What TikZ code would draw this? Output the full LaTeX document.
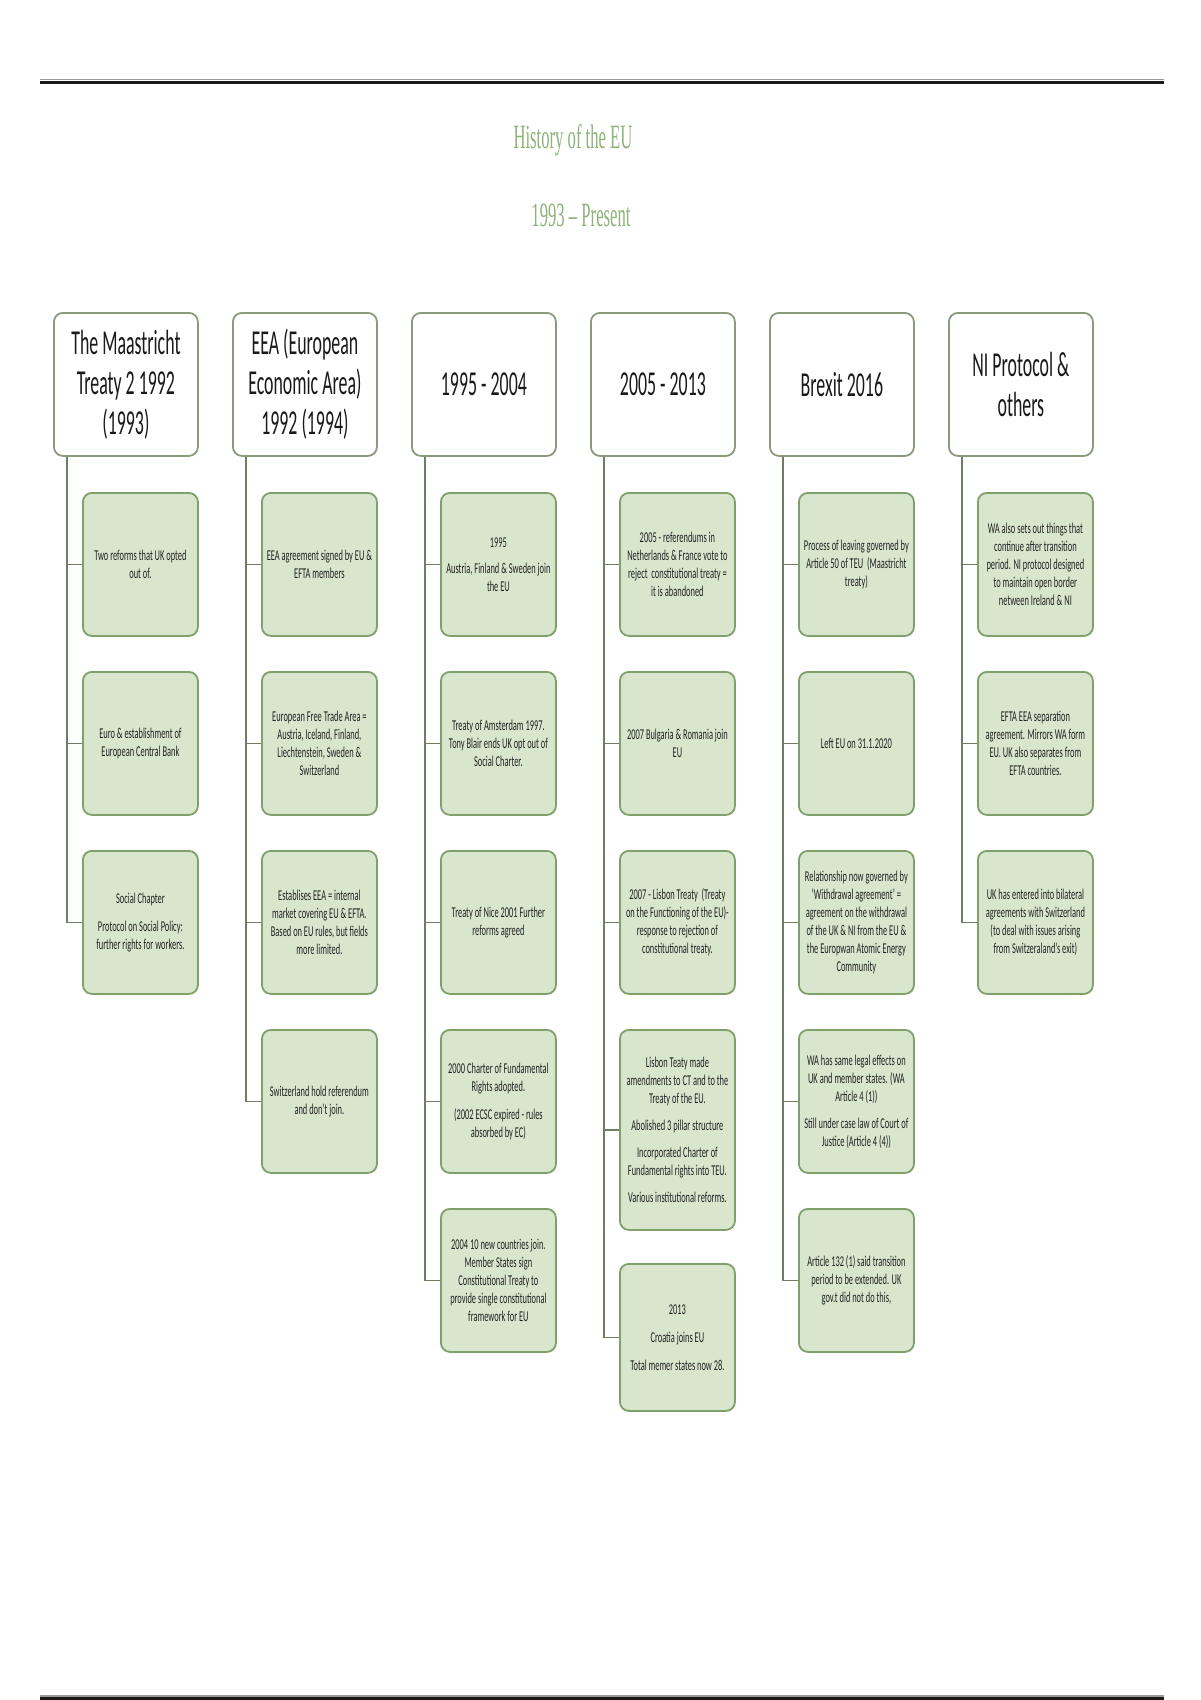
\documentclass[tikz,border=0pt]{standalone}
\usepackage{fontspec}
\newfontfamily\cfam[FakeStretch=0.56]{Carlito}
\newfontfamily\hfam[FakeStretch=0.51]{Carlito}
\newfontfamily\tfam[FakeStretch=0.49]{Liberation Serif}
\definecolor{headborder}{HTML}{8A9A7B}
\definecolor{leafborder}{HTML}{7FA06A}
\definecolor{leaffill}{HTML}{D8E6CE}
\definecolor{conncol}{HTML}{6F7D63}
\definecolor{titlecol}{HTML}{8DB27A}
\definecolor{leaftext}{HTML}{222222}
\definecolor{rulegray}{HTML}{9A9A9A}
\begin{document}
\begin{tikzpicture}[x=1pt,y=-1pt,
  head/.style={draw=headborder, line width=1.8pt, fill=white, rounded corners=9pt,
    minimum width=144pt, minimum height=143pt, anchor=north west, align=center,
    font=\hfam\fontsize{35pt}{40pt}\selectfont, text=black!90, inner sep=2pt},
  leaf/.style={draw=leafborder, line width=1.8pt, fill=leaffill, rounded corners=9pt,
    minimum width=115pt, minimum height=143pt, anchor=north west, align=center,
    font=\cfam\fontsize{15pt}{18pt}\selectfont, text=leaftext, inner sep=2pt},
  conn/.style={draw=conncol, line width=1.8pt},
  titletext/.style={font=\tfam\fontsize{34pt}{40pt}\selectfont, text=titlecol, anchor=base, inner sep=0pt},
  rulebar/.style={line width=3pt, draw=black!90},
  rulelite/.style={line width=1.2pt, draw=rulegray}
]
\fill[white] (0,0) rectangle (1200,1700);
\useasboundingbox (0,0) rectangle (1200,1700);

% rules
\coordinate (rl1) at (40,82);
\coordinate (rr1) at (1164,82);
\coordinate (rl1g) at (40,79.6);
\coordinate (rr1g) at (1164,79.6);
\draw[rulelite] (rl1g) -- (rr1g);
\draw[rulebar] (rl1) -- (rr1);
\coordinate (rl2) at (40,1698.5);
\coordinate (rr2) at (1164,1698.5);
\coordinate (rl2g) at (40,1696);
\coordinate (rr2g) at (1164,1696);
\draw[rulelite] (rl2g) -- (rr2g);
\draw[rulebar] (rl2) -- (rr2);

% titles
\node[titletext] (title) at (573,148) {History of the EU};
\node[titletext] (subtitle) at (581,226) {1993 – Present};

% headers
\node[head] (h1) at (53,312) {The Maastricht\\Treaty 2 1992\\(1993)};
\node[head] (h2) at (232,312) {EEA (European\\Economic Area)\\1992 (1994)};
\node[head] (h3) at (411,312) {1995 - 2004};
\node[head] (h4) at (590,312) {2005 - 2013};
\node[head] (h5) at (769,312) {Brexit 2016};
\node[head] (h6) at (948,312) {NI Protocol \&\\others};

% column 1
\node[leaf] (c11) at (82,492) {Two reforms that UK opted\\out of.};
\node[leaf] (c12) at (82,671) {Euro \& establishment of\\European Central Bank};
\node[leaf] (c13) at (82,850) {Social Chapter\\[10pt]Protocol on Social Policy:\\further rights for workers.};

% column 2
\node[leaf] (c21) at (261,492) {EEA agreement signed by EU \&\\EFTA members};
\node[leaf] (c22) at (261,671) {European Free Trade Area =\\Austria, Iceland, Finland,\\Liechtenstein, Sweden \&\\Switzerland};
\node[leaf] (c23) at (261,850) {Establises EEA = internal\\market covering EU \& EFTA.\\Based on EU rules, but fields\\more limited.};
\node[leaf] (c24) at (261,1029) {Switzerland hold referendum\\and don’t join.};

% column 3
\node[leaf] (c31) at (440,492) {1995\\[8pt]Austria, Finland \& Sweden join\\the EU};
\node[leaf] (c32) at (440,671) {Treaty of Amsterdam 1997.\\Tony Blair ends UK opt out of\\Social Charter.};
\node[leaf] (c33) at (440,850) {Treaty of Nice 2001 Further\\reforms agreed};
\node[leaf] (c34) at (440,1029) {2000 Charter of Fundamental\\Rights adopted.\\[10pt](2002 ECSC expired - rules\\absorbed by EC)};
\node[leaf] (c35) at (440,1208) {2004 10 new countries join.\\Member States sign\\Constitutional Treaty to\\provide single constitutional\\framework for EU};

% column 4
\node[leaf] (c41) at (619,492) {2005 - referendums in\\Netherlands \& France vote to\\reject \ constitutional treaty =\\it is abandoned};
\node[leaf] (c42) at (619,671) {2007 Bulgaria \& Romania join\\EU};
\node[leaf] (c43) at (619,850) {2007 - Lisbon Treaty \ (Treaty\\on the Functioning of the EU)-\\response to rejection of\\constitutional treaty.};
\node[leaf, minimum height=200pt] (c44) at (619,1029) {Lisbon Teaty made\\amendments to CT and to the\\Treaty of the EU.\\[9pt]Abolished 3 pillar structure\\[9pt]Incorporated Charter of\\Fundamental rights into TEU.\\[9pt]Various institutional reforms.};
\node[leaf, minimum height=147pt] (c45) at (619,1263) {2013\\[10pt]Croatia joins EU\\[10pt]Total memer states now 28.};

% column 5
\node[leaf] (c51) at (798,492) {Process of leaving governed by\\Article 50 of TEU \ (Maastricht\\treaty)};
\node[leaf] (c52) at (798,671) {Left EU on 31.1.2020};
\node[leaf] (c53) at (798,850) {Relationship now governed by\\‘Withdrawal agreement’ =\\agreement on the withdrawal\\of the UK \& NI from the EU \&\\the Europwan Atomic Energy\\Community};
\node[leaf] (c54) at (798,1029) {WA has same legal effects on\\UK and member states. (WA\\Article 4 (1))\\[9pt]Still under case law of Court of\\Justice (Article 4 (4))};
\node[leaf] (c55) at (798,1208) {Article 132 (1) said transition\\period to be extended. UK\\gov.t did not do this,};

% column 6
\node[leaf] (c61) at (977,492) {WA also sets out things that\\continue after transition\\period. NI protocol designed\\to maintain open border\\netween Ireland \& NI};
\node[leaf] (c62) at (977,671) {EFTA EEA separation\\agreement. Mirrors WA form\\EU. UK also separates from\\EFTA countries.};
\node[leaf] (c63) at (977,850) {UK has entered into bilateral\\agreements with Switzerland\\(to deal with issues arising\\from Switzeraland’s exit)};

% connectors
\foreach \h/\c in {h1/c11,h1/c12,h1/c13,
                   h2/c21,h2/c22,h2/c23,h2/c24,
                   h3/c31,h3/c32,h3/c33,h3/c34,h3/c35,
                   h4/c41,h4/c42,h4/c43,h4/c44,h4/c45,
                   h5/c51,h5/c52,h5/c53,h5/c54,h5/c55,
                   h6/c61,h6/c62,h6/c63}
  \draw[conn] ([xshift=14pt]\h.south west) |- (\c.west);
\end{tikzpicture}
\end{document}
